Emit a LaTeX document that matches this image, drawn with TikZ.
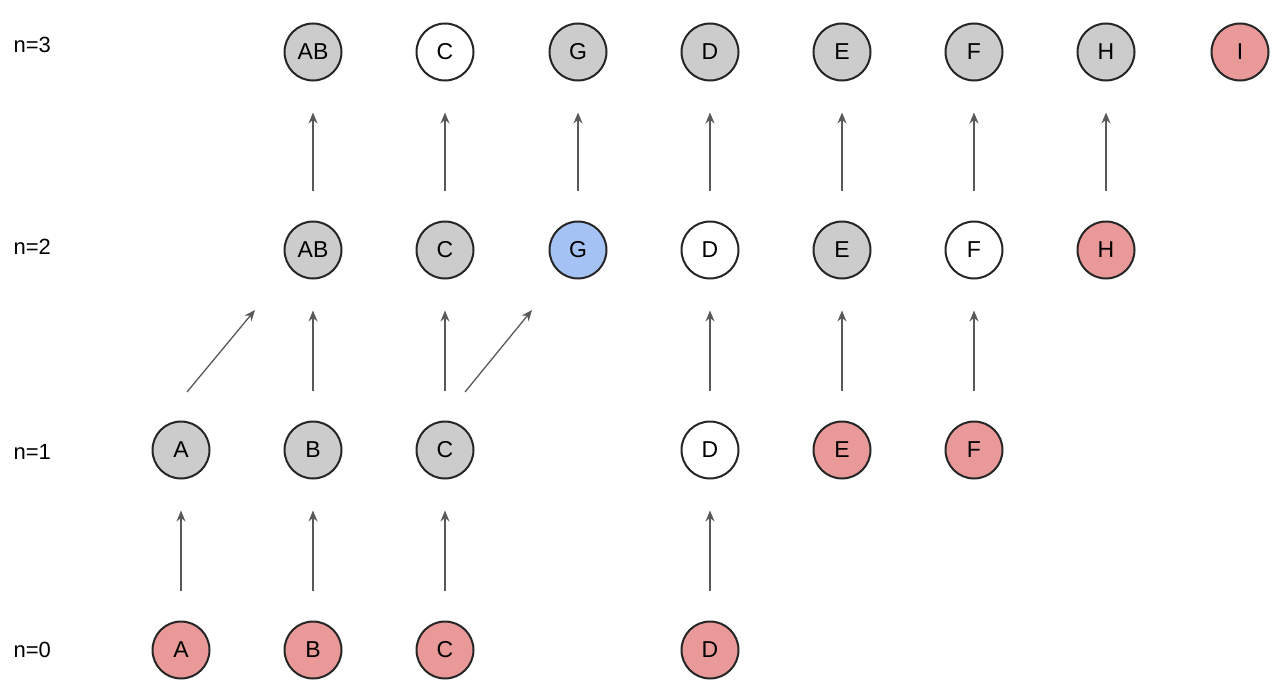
\documentclass[tikz,border=0pt]{standalone}
\usepackage{fontspec}
\setmainfont{Liberation Sans}
\usetikzlibrary{arrows.meta}
\definecolor{gr}{HTML}{CCCCCC}
\definecolor{rd}{HTML}{EA9999}
\definecolor{bl}{HTML}{A4C2F4}
\definecolor{ar}{HTML}{595959}
\begin{document}
\begin{tikzpicture}[x=1pt,y=-1pt,
  nd/.style={circle,draw=black!85,line width=2pt,minimum size=57pt,inner sep=0pt,font=\fontsize{23}{23}\selectfont},
  g/.style={nd,fill=gr}, r/.style={nd,fill=rd}, b/.style={nd,fill=bl}, w/.style={nd,fill=white},
  lab/.style={font=\fontsize{22}{22}\selectfont,anchor=west},
  ar/.style={draw=ar,line width=1.3pt,-{Stealth[length=11pt,width=9pt]}},
  up/.style={ar,shorten <=30pt,shorten >=31pt}]
\useasboundingbox (0,0) rectangle (1283,693);
\node[lab] at (10,45) {n=3};
\node[lab] at (10,247) {n=2};
\node[lab] at (10,452) {n=1};
\node[lab] at (10,650) {n=0};
% row 0
\node[r] (A0) at (181,650) {A};
\node[r] (B0) at (313,650) {B};
\node[r] (C0) at (445,650) {C};
\node[r] (D0) at (710,650) {D};
% row 1
\node[g] (A1) at (181,450) {A};
\node[g] (B1) at (313,450) {B};
\node[g] (C1) at (445,450) {C};
\node[w] (D1) at (710,450) {D};
\node[r] (E1) at (842,450) {E};
\node[r] (F1) at (974,450) {F};
% row 2
\node[g] (AB2) at (313,250) {AB};
\node[g] (C2) at (445,250) {C};
\node[b] (G2) at (578,250) {G};
\node[w] (D2) at (710,250) {D};
\node[g] (E2) at (842,250) {E};
\node[w] (F2) at (974,250) {F};
\node[r] (H2) at (1106,250) {H};
% row 3
\node[g] (AB3) at (313,52) {AB};
\node[w] (C3) at (445,52) {C};
\node[g] (G3) at (578,52) {G};
\node[g] (D3) at (710,52) {D};
\node[g] (E3) at (842,52) {E};
\node[g] (F3) at (974,52) {F};
\node[g] (H3) at (1106,52) {H};
\node[r] (I3) at (1240,52) {I};
% arrows
\foreach \a/\b in {A0/A1,B0/B1,C0/C1,D0/D1,B1/AB2,C1/C2,D1/D2,E1/E2,F1/F2,AB2/AB3,C2/C3,G2/G3,D2/D3,E2/E3,F2/F3,H2/H3}
  \draw[up] (\a) -- (\b);
\coordinate (s1) at (187,392); \coordinate (e1) at (255,310);
\coordinate (s2) at (465,392); \coordinate (e2) at (532,310);
\draw[ar] (s1) -- (e1);
\draw[ar] (s2) -- (e2);
\end{tikzpicture}
\end{document}
